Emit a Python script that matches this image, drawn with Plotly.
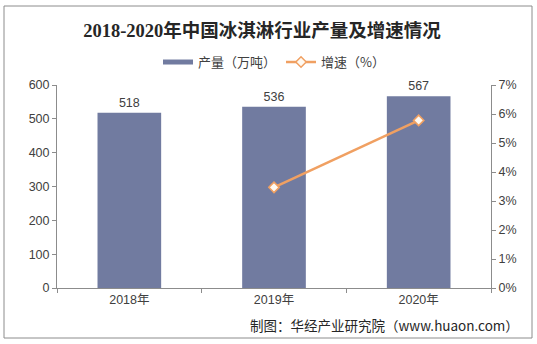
import plotly.graph_objects as go

years = ["2018年", "2019年", "2020年"]
output = [518, 536, 567]
growth = [None, 0.0347, 0.0578]

bar_color = "#717ba0"
line_color = "#f0a062"

fig = go.Figure()
fig.add_trace(go.Bar(
    x=years, y=output, name="产量（万吨）", marker=dict(color=bar_color, line=dict(width=0)),
    text=[str(v) for v in output], textposition="outside", cliponaxis=False,
    textfont=dict(family="Liberation Sans, Arial", size=12.5, color="#404040"),
    showlegend=False, width=0.44,
))
# legend proxy for bar series (drawn as a thick line like the reference)
fig.add_trace(go.Scatter(
    x=[None], y=[None], mode="lines", name="产量（万吨）",
    line=dict(color=bar_color, width=5),
))
fig.add_trace(go.Scatter(
    x=years, y=growth, name="增速（%）", yaxis="y2", mode="lines+markers",
    line=dict(color=line_color, width=2.5),
    marker=dict(symbol="diamond", size=8, color="#fffaf2", line=dict(color=line_color, width=1.5)),
    connectgaps=False,
))

axis_font = dict(family="Liberation Sans, Arial", size=12.5, color="#404040")
fig.update_layout(
    width=537, height=344,
    margin=dict(l=57, r=46, t=85, b=56),
    paper_bgcolor="white", plot_bgcolor="white",
    title=dict(
        text="<b>2018-2020年中国冰淇淋行业产量及增速情况</b>",
        x=(262 - 0) / 537, xanchor="center", y=1 - 31 / 344, yanchor="middle",
        font=dict(family="Liberation Serif, Noto Sans CJK SC", size=18.5, color="#262626"),
    ),
    legend=dict(
        orientation="h", x=0.5, xanchor="center", y=1.113, yanchor="middle",
        font=dict(family="Noto Sans CJK SC", size=13, color="#404040"),
        bgcolor="rgba(0,0,0,0)", itemwidth=30, traceorder="normal",
    ),
    xaxis=dict(
        showline=True, linecolor="#8c8c8c", linewidth=1,
        ticks="outside", tickson="boundaries", ticklen=4, tickcolor="#8c8c8c",
        tickfont=dict(family="Liberation Sans, Noto Sans CJK SC", size=12.5, color="#404040"),
        showgrid=False,
    ),
    yaxis=dict(
        range=[0, 600], dtick=100, showline=True, linecolor="#8c8c8c", linewidth=1,
        ticks="outside", ticklen=4, tickcolor="#8c8c8c", showgrid=False, zeroline=False,
        tickfont=axis_font,
    ),
    yaxis2=dict(
        range=[0, 0.07], dtick=0.01, tickformat=".0%", overlaying="y", side="right",
        showline=True, linecolor="#8c8c8c", linewidth=1,
        ticks="outside", ticklen=4, tickcolor="#8c8c8c", showgrid=False, zeroline=False,
        tickfont=axis_font,
    ),
    bargap=0.56,
)

# outer frame
fig.add_shape(type="rect", xref="paper", yref="paper",
              x0=(4 - 57) / 434, x1=(532 - 57) / 434,
              y0=(288 - 338) / 203, y1=(288 - 6) / 203,
              line=dict(color="#8c8c8c", width=1), fillcolor="rgba(0,0,0,0)", layer="below")

fig.add_annotation(
    text="制图：华经产业研究院（www.huaon.com）", xref="paper", yref="paper",
    x=(521 - 57) / 434, xanchor="right", y=(288 - 325) / 203, yanchor="middle",
    showarrow=False, font=dict(family="Noto Sans CJK SC", size=13.5, color="#262626"),
)

fig.write_html("out.html")
